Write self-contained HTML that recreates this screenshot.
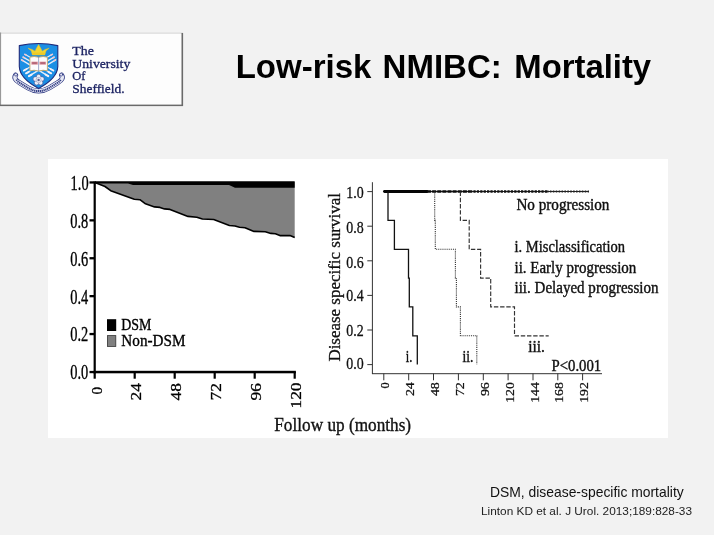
<!DOCTYPE html>
<html><head><meta charset="utf-8">
<style>
html,body{margin:0;padding:0;background:#f2f2f2;}
body{width:714px;height:535px;overflow:hidden;font-family:"Liberation Sans",sans-serif;}
svg{display:block;will-change:transform}
.sf{font-family:"Liberation Serif",serif;}
.ss{font-family:"Liberation Sans",sans-serif;}
</style></head><body>
<svg width="714" height="535" viewBox="0 0 714 535">
<rect width="714" height="535" fill="#f2f2f2"/>

<!-- LOGO BOX -->
<g id="logo">
<rect x="0" y="32.5" width="183" height="73.5" fill="#dcdcdc"/>
<rect x="1" y="33.8" width="181" height="71.5" fill="#fdfdfd"/>
<rect x="0" y="32.5" width="1.1" height="73.5" fill="#999"/>
<rect x="181.5" y="33" width="1.6" height="73" fill="#6a6a6a"/>
<rect x="0" y="104.6" width="183" height="1.5" fill="#6a6a6a"/>
<!-- shield -->
<path d="M19.3,45.6 Q38.6,41.3 57.8,45.6 L57.8,66.5 Q57.3,78.5 38.6,88.4 Q19.8,78.5 19.3,66.5 Z" fill="#1c8fe4" stroke="#1f2b7c" stroke-width="1.1" stroke-linejoin="round"/>
<!-- arrows -->
<g stroke="#e6effb" stroke-width="1.25" stroke-linecap="round">
<line x1="24.8" y1="54.3" x2="53.3" y2="70.5"/><line x1="23.1" y1="57.1" x2="51.1" y2="73.3"/><line x1="21.6" y1="59.9" x2="48.3" y2="76.1"/>
<line x1="52.4" y1="54.3" x2="23.9" y2="70.5"/><line x1="54.1" y1="57.1" x2="26.1" y2="73.3"/><line x1="55.6" y1="59.9" x2="28.9" y2="76.1"/>
</g>
<g stroke="#f3c8cf" stroke-width="1.5" stroke-linecap="round">
<line x1="24.8" y1="54.3" x2="26.3" y2="55.2"/><line x1="23.1" y1="57.1" x2="24.6" y2="58"/><line x1="21.6" y1="59.9" x2="23.1" y2="60.8"/>
<line x1="52.4" y1="54.3" x2="50.9" y2="55.2"/><line x1="54.1" y1="57.1" x2="52.6" y2="58"/><line x1="55.6" y1="59.9" x2="54.1" y2="60.8"/>
</g>
<g stroke="#f4f0f6" stroke-width="2" stroke-linecap="round">
<line x1="53.3" y1="70.5" x2="50.6" y2="69"/><line x1="51.1" y1="73.3" x2="48.4" y2="71.8"/><line x1="48.3" y1="76.1" x2="45.6" y2="74.6"/>
<line x1="23.9" y1="70.5" x2="26.6" y2="69"/><line x1="26.1" y1="73.3" x2="28.8" y2="71.8"/><line x1="28.9" y1="76.1" x2="31.6" y2="74.6"/>
</g>
<!-- crown -->
<path d="M32.4,54.9 L31.2,50.8 L28,48.2 L32,49.4 L35,51.2 L36.6,48 L38.6,44.6 L40.6,48 L42.2,51.2 L45.2,49.4 L49.2,48.2 L46,50.8 L44.8,54.9 Z" fill="#f1d531" stroke="#e9c92a" stroke-width="0.5" stroke-linejoin="round"/>
<rect x="32.4" y="52.6" width="12.4" height="2.3" fill="#ecc92a"/>
<!-- book -->
<path d="M29.9,57.2 Q34,55.8 38.6,57.2 Q43.2,55.8 47.4,57.2 L47.4,70.8 Q43.2,69.6 38.6,71 Q34,69.6 29.9,70.8 Z" fill="#fcfcfd" stroke="#c0a566" stroke-width="0.9"/>
<line x1="38.6" y1="57" x2="38.6" y2="71" stroke="#7d86b4" stroke-width="0.7"/>
<rect x="31.4" y="61.7" width="6.4" height="2.9" fill="#d98590"/><rect x="39.5" y="61.7" width="6.4" height="2.9" fill="#d98590"/>
<rect x="32.2" y="62.4" width="4.6" height="1.3" fill="#7a3b56" opacity="0.55"/><rect x="40.5" y="62.4" width="4.6" height="1.3" fill="#7a3b56" opacity="0.55"/>
<!-- rose -->
<g fill="#eef0f8" stroke="#4a5390" stroke-width="0.6">
<circle cx="38.6" cy="76.6" r="2.3"/><circle cx="41.9" cy="79" r="2.3"/><circle cx="40.6" cy="82.8" r="2.3"/><circle cx="36.6" cy="82.8" r="2.3"/><circle cx="35.3" cy="79" r="2.3"/>
</g>
<circle cx="38.6" cy="80" r="3.2" fill="#eef0f8"/>
<circle cx="38.6" cy="80" r="2.6" fill="none" stroke="#8c93ba" stroke-width="0.6"/>
<circle cx="38.6" cy="80" r="1.2" fill="#59608f"/>
<!-- scroll -->
<g fill="none" stroke-linecap="round" stroke-linejoin="round">
<path d="M15.6,75.2 Q13,79 19.4,82.6 L28,87.9 Q38.6,94.2 49.2,87.9 L57.8,82.6 Q64.2,79 61.6,75.2" stroke="#2a347f" stroke-width="5"/>
<path d="M15.6,75.2 Q13,79 19.4,82.6 L28,87.9 Q38.6,94.2 49.2,87.9 L57.8,82.6 Q64.2,79 61.6,75.2" stroke="#e6e8f4" stroke-width="3.6"/>
<path d="M16.6,79.6 Q17,81.2 19.8,82.9 L28.2,88 Q38.6,94.2 49,88 L57.4,82.9 Q60.2,81.2 60.6,79.6" stroke="#343e84" stroke-width="2" stroke-dasharray="1.3 0.6" stroke-linecap="butt"/>
<circle cx="16" cy="74.6" r="1.5" stroke="#2a347f" stroke-width="0.7" fill="#e6e8f4"/>
<circle cx="61.2" cy="74.6" r="1.5" stroke="#2a347f" stroke-width="0.7" fill="#e6e8f4"/>
</g>
<g class="sf" font-size="13" fill="#1d2463" stroke="#1d2463" stroke-width="0.3">
<text x="72.3" y="55" textLength="21.5" lengthAdjust="spacingAndGlyphs">The</text>
<text x="72.3" y="67.6" textLength="58" lengthAdjust="spacingAndGlyphs">University</text>
<text x="72.3" y="80.2" textLength="13.2" lengthAdjust="spacingAndGlyphs">Of</text>
<text x="72.3" y="93" textLength="52.3" lengthAdjust="spacingAndGlyphs">Sheffield.</text>
</g>
</g>

<!-- TITLE -->
<g class="ss" font-size="33" font-weight="bold" fill="#000">
<text x="235.7" y="77.8">Low-risk</text>
<text x="382.6" y="77.8">NMIBC:</text>
<text x="514.3" y="77.8" textLength="136.8" lengthAdjust="spacingAndGlyphs">Mortality</text>
</g>

<!-- PANEL -->
<rect x="48" y="159" width="620" height="279" fill="#ffffff"/>

<!-- LEFT CHART -->
<g id="left">
<path d="M95,182.4 L105,186.5 L110.7,190.7 L134.3,199.3 L139.9,199.7 L145.5,203.8 L154.5,206.9 L160,207.4 L164.5,208.9 L170,209.4 L188,216.4 L196.8,217.2 L202.4,219 L213.7,219.5 L229.4,225.5 L235,226 L239.5,227.3 L245,227.8 L254,231.4 L265.3,231.8 L270.9,233.4 L275.4,233.8 L279.9,235.6 L290,235.6 L294.7,237.6 L294.7,182 Z" fill="#808080"/>
<path d="M95,182.4 L105,186.5 L110.7,190.7 L134.3,199.3 L139.9,199.7 L145.5,203.8 L154.5,206.9 L160,207.4 L164.5,208.9 L170,209.4 L188,216.4 L196.8,217.2 L202.4,219 L213.7,219.5 L229.4,225.5 L235,226 L239.5,227.3 L245,227.8 L254,231.4 L265.3,231.8 L270.9,233.4 L275.4,233.8 L279.9,235.6 L290,235.6 L294.7,237.6" fill="none" stroke="#000" stroke-width="1.6" stroke-linejoin="round"/>
<path d="M95,181.3 L294.7,181.3 L294.7,187.8 L235,187.8 L229,185.1 L133,185.1 L128,183.6 L95,183.6 Z" fill="#000"/>
<!-- axes -->
<rect x="93.6" y="181.3" width="2.2" height="192" fill="#000"/>
<rect x="93.6" y="370.8" width="202.3" height="2.5" fill="#000"/>
<g fill="#000">
<rect x="89.5" y="181.3" width="5" height="2.3"/><rect x="89.5" y="219.2" width="5" height="2.3"/><rect x="89.5" y="257.1" width="5" height="2.3"/><rect x="89.5" y="295" width="5" height="2.3"/><rect x="89.5" y="332.9" width="5" height="2.3"/><rect x="89.5" y="370.9" width="5" height="2.3"/>
<rect x="93.6" y="372" width="2.2" height="6.7"/><rect x="133.6" y="372" width="2.2" height="6.7"/><rect x="173.6" y="372" width="2.2" height="6.7"/><rect x="213.6" y="372" width="2.2" height="6.7"/><rect x="253.6" y="372" width="2.2" height="6.7"/><rect x="293.6" y="372" width="2.2" height="6.7"/>
</g>
<g class="sf" font-size="21.5" fill="#000" stroke="#000" stroke-width="0.35">
<text x="70.6" y="189.8" textLength="18" lengthAdjust="spacingAndGlyphs">1.0</text>
<text x="70.3" y="227.7" textLength="18" lengthAdjust="spacingAndGlyphs">0.8</text>
<text x="70.3" y="265.6" textLength="18" lengthAdjust="spacingAndGlyphs">0.6</text>
<text x="70.3" y="303.5" textLength="18" lengthAdjust="spacingAndGlyphs">0.4</text>
<text x="70.3" y="341.4" textLength="18" lengthAdjust="spacingAndGlyphs">0.2</text>
<text x="70.3" y="379.4" textLength="18" lengthAdjust="spacingAndGlyphs">0.0</text>
</g>
<g class="sf" font-size="15.5" fill="#000" stroke="#000" stroke-width="0.3">
<text transform="translate(101.7,394.6) rotate(-90)" textLength="7.6" lengthAdjust="spacingAndGlyphs">0</text>
<text transform="translate(141,400.4) rotate(-90)" textLength="17.3" lengthAdjust="spacingAndGlyphs">24</text>
<text transform="translate(181,400.4) rotate(-90)" textLength="17.3" lengthAdjust="spacingAndGlyphs">48</text>
<text transform="translate(221,400.4) rotate(-90)" textLength="17.3" lengthAdjust="spacingAndGlyphs">72</text>
<text transform="translate(261,400.4) rotate(-90)" textLength="17.3" lengthAdjust="spacingAndGlyphs">96</text>
<text transform="translate(301,408.5) rotate(-90)" textLength="26" lengthAdjust="spacingAndGlyphs">120</text>
</g>
<!-- legend -->
<rect x="107" y="319.2" width="9.2" height="11.8" fill="#000"/>
<rect x="107.4" y="335.6" width="8.4" height="10.8" fill="#808080" stroke="#333" stroke-width="0.8"/>
<g class="sf" font-size="17.4" fill="#000" stroke="#000" stroke-width="0.35">
<text x="121.3" y="330" textLength="30.2" lengthAdjust="spacingAndGlyphs">DSM</text>
<text x="121.3" y="345.6" textLength="64.2" lengthAdjust="spacingAndGlyphs">Non-DSM</text>
</g>
<text class="sf" x="274.3" y="431" font-size="18.7" fill="#111" stroke="#111" stroke-width="0.35" textLength="136.8" lengthAdjust="spacingAndGlyphs">Follow up (months)</text>
</g>

<!-- RIGHT CHART -->
<g id="right">
<g stroke="#333" stroke-width="1" fill="none">
<line x1="372.4" y1="182.2" x2="372.4" y2="374"/>
<line x1="372" y1="373.7" x2="602" y2="373.7"/>
<line x1="367.3" y1="191.6" x2="372.4" y2="191.6"/><line x1="367.3" y1="226.2" x2="372.4" y2="226.2"/><line x1="367.3" y1="260.8" x2="372.4" y2="260.8"/><line x1="367.3" y1="295.4" x2="372.4" y2="295.4"/><line x1="367.3" y1="330" x2="372.4" y2="330"/><line x1="367.3" y1="364.6" x2="372.4" y2="364.6"/>
<line x1="383.8" y1="373.5" x2="383.8" y2="380.3"/><line x1="408.7" y1="373.5" x2="408.7" y2="380.3"/><line x1="433.5" y1="373.5" x2="433.5" y2="380.3"/><line x1="458.4" y1="373.5" x2="458.4" y2="380.3"/><line x1="483.3" y1="373.5" x2="483.3" y2="380.3"/><line x1="508.1" y1="373.5" x2="508.1" y2="380.3"/><line x1="533" y1="373.5" x2="533" y2="380.3"/><line x1="557.8" y1="373.5" x2="557.8" y2="380.3"/><line x1="582.6" y1="373.5" x2="582.6" y2="380.3"/>
</g>
<!-- no progression -->
<line x1="383.4" y1="191.5" x2="589" y2="191.5" stroke="#222" stroke-width="1"/>
<line x1="384.5" y1="191.5" x2="427" y2="191.5" stroke="#050505" stroke-width="2.9" stroke-linecap="round"/>
<line x1="427" y1="191.5" x2="470" y2="191.5" stroke="#0a0a0a" stroke-width="2.6" stroke-dasharray="4.2 0.9"/>
<line x1="470" y1="191.5" x2="547" y2="191.5" stroke="#111" stroke-width="2.4" stroke-dasharray="2.3 1.1"/>
<line x1="547" y1="191.5" x2="589" y2="191.5" stroke="#222" stroke-width="1.9" stroke-dasharray="1.6 1.3"/>
<path d="M388,191.6 V220.4 H394.4 V249.3 H408.5 V278.1 H409.3 V306.9 H412.8 V335.8 H417.3 V364.6" fill="none" stroke="#111" stroke-width="1.3"/>
<path d="M434.7,191.6 V220.4 H435.3 V249.3 H455.4 V278.1 H456.4 V306.9 H460.4 V335.8 H476.8 V364.6" fill="none" stroke="#333" stroke-width="1.1" stroke-dasharray="1 0.9"/>
<path d="M460.4,191.6 V220.4 H469.2 V249.3 H480.6 V278.1 H490.7 V306.9 H514.5 V335.8 H548.7" fill="none" stroke="#333" stroke-width="1.15" stroke-dasharray="4.4 1.8"/>
<g class="sf" font-size="16.3" fill="#111" stroke="#111" stroke-width="0.3">
<text x="346.3" y="198.3" textLength="17.4" lengthAdjust="spacingAndGlyphs">1.0</text>
<text x="346.3" y="232.9" textLength="17.4" lengthAdjust="spacingAndGlyphs">0.8</text>
<text x="346.3" y="267.5" textLength="17.4" lengthAdjust="spacingAndGlyphs">0.6</text>
<text x="346.3" y="300.8" textLength="17.4" lengthAdjust="spacingAndGlyphs">0.4</text>
<text x="346.3" y="335.5" textLength="17.4" lengthAdjust="spacingAndGlyphs">0.2</text>
<text x="346.3" y="368.8" textLength="17.4" lengthAdjust="spacingAndGlyphs">0.0</text>
</g>
<text class="sf" transform="translate(339.8,361.6) rotate(-90)" font-size="16" fill="#111" stroke="#111" stroke-width="0.3" textLength="168.5" lengthAdjust="spacingAndGlyphs">Disease specific survival</text>
<g class="sf" font-size="12.7" fill="#111" stroke="#111" stroke-width="0.25">
<text transform="translate(389.4,388.4) rotate(-90)" textLength="6.2" lengthAdjust="spacingAndGlyphs">0</text>
<text transform="translate(414.3,396.1) rotate(-90)" textLength="13.9" lengthAdjust="spacingAndGlyphs">24</text>
<text transform="translate(439.1,396.1) rotate(-90)" textLength="13.9" lengthAdjust="spacingAndGlyphs">48</text>
<text transform="translate(464.0,396.1) rotate(-90)" textLength="13.9" lengthAdjust="spacingAndGlyphs">72</text>
<text transform="translate(488.9,396.1) rotate(-90)" textLength="13.9" lengthAdjust="spacingAndGlyphs">96</text>
<text transform="translate(513.7,402.8) rotate(-90)" textLength="20.6" lengthAdjust="spacingAndGlyphs">120</text>
<text transform="translate(538.6,402.8) rotate(-90)" textLength="20.6" lengthAdjust="spacingAndGlyphs">144</text>
<text transform="translate(563.4,402.8) rotate(-90)" textLength="20.6" lengthAdjust="spacingAndGlyphs">168</text>
<text transform="translate(588.2,402.8) rotate(-90)" textLength="20.6" lengthAdjust="spacingAndGlyphs">192</text>
</g>
<g class="sf" font-size="16.6" fill="#111" stroke="#111" stroke-width="0.4">
<text x="516.4" y="209.5" textLength="93" lengthAdjust="spacingAndGlyphs">No progression</text>
<text x="514.5" y="252.4" textLength="110.5" lengthAdjust="spacingAndGlyphs">i. Misclassification</text>
<text x="514.5" y="272.5" textLength="121.8" lengthAdjust="spacingAndGlyphs">ii. Early progression</text>
<text x="514.5" y="292.6" textLength="144" lengthAdjust="spacingAndGlyphs">iii. Delayed progression</text>
<text x="405.7" y="362" textLength="6.6" lengthAdjust="spacingAndGlyphs">i.</text>
<text x="462.4" y="362" textLength="10.9" lengthAdjust="spacingAndGlyphs">ii.</text>
<text x="528.2" y="352.3" textLength="16.8" lengthAdjust="spacingAndGlyphs">iii.</text>
<text x="551.5" y="370.5" textLength="49.7" lengthAdjust="spacingAndGlyphs">P&lt;0.001</text>
</g>
</g>

<!-- FOOTER -->
<text class="ss" x="489.9" y="496.9" font-size="14.3" fill="#111" textLength="193.8" lengthAdjust="spacingAndGlyphs">DSM, disease-specific mortality</text>
<text class="ss" x="481" y="514.9" font-size="11.6" fill="#222" textLength="211" lengthAdjust="spacingAndGlyphs">Linton KD et al. J Urol. 2013;189:828-33</text>
</svg>
</body></html>
